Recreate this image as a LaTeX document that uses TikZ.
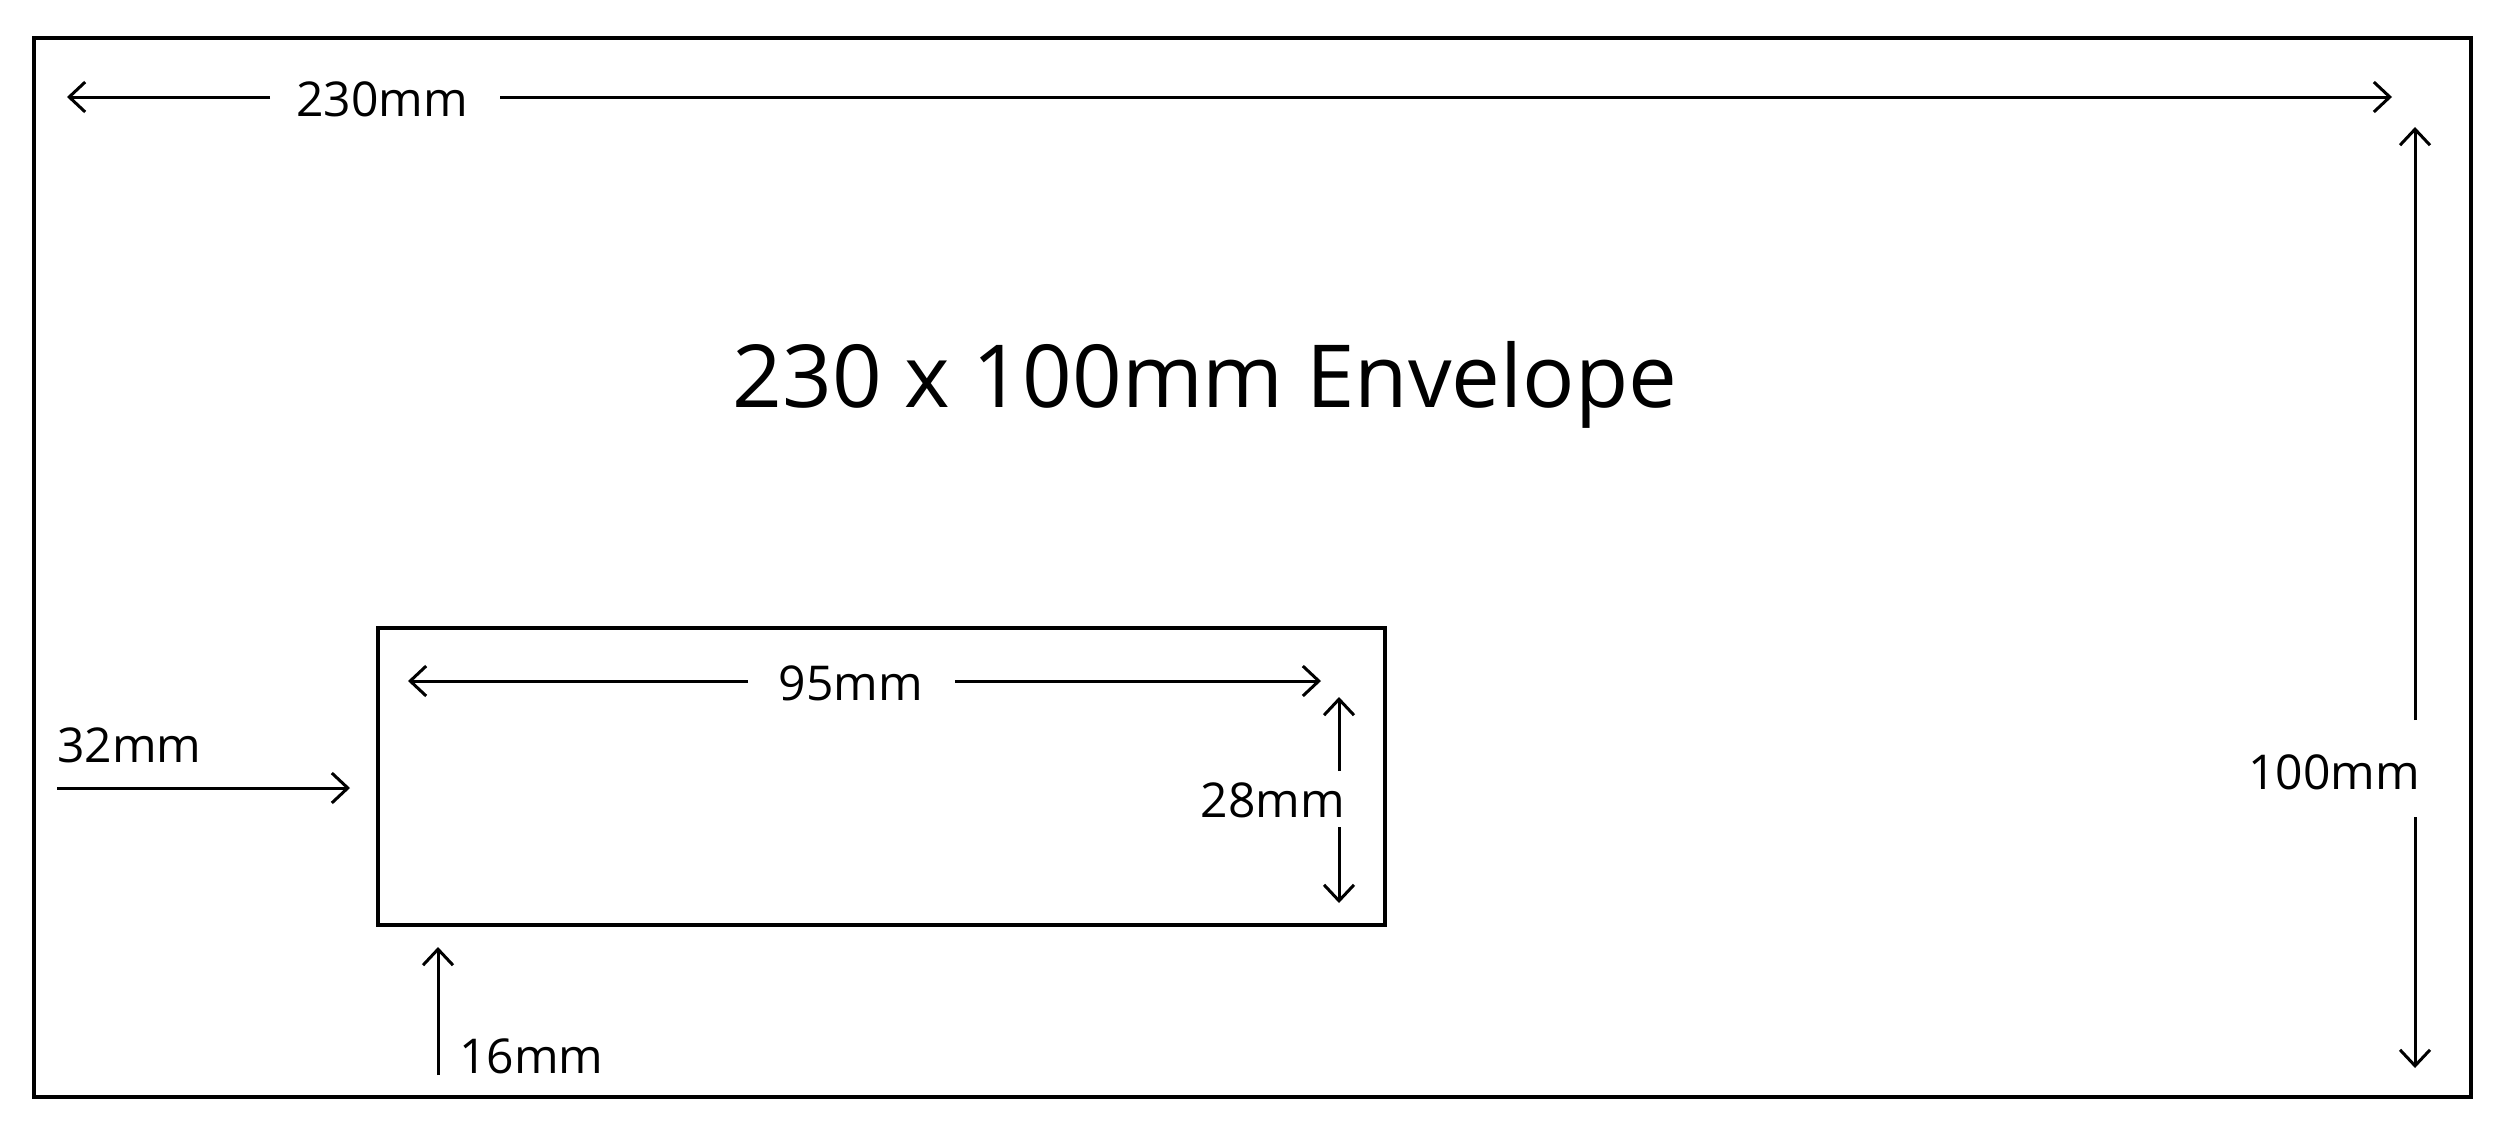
\documentclass[tikz,border=0pt]{standalone}
\usepackage{fontspec}
\setmainfont{Open Sans}
\usetikzlibrary{arrows.meta}
\begin{document}
\begin{tikzpicture}[x=1pt,y=-1pt,
  dimline/.style={line width=3pt,-{Straight Barb[length=16pt,width=30pt,line width=3pt]}},
  lbl/.style={inner sep=0pt,font=\fontsize{48}{48}\selectfont},
  titlelbl/.style={inner sep=0pt,font=\fontsize{87}{87}\selectfont},
  frame/.style={line width=3.5pt}]
\useasboundingbox (0,0) rectangle (2500,1135);
\fill[white] (0,0) rectangle (2500,1135);
% envelope and window
\draw[frame] (34,38) rectangle (2471,1097);
\draw[frame] (378,628) rectangle (1385,925);
% title
\node[titlelbl] (title) at (1205,385) {230 x 100mm Envelope};
% 230mm
\node[lbl] (t230) at (382,99) {230mm};
\coordinate (a230l) at (270,97);
\coordinate (a230lt) at (67,97);
\coordinate (a230r) at (500,97);
\coordinate (a230rt) at (2392,97);
\draw[dimline] (a230l) -- (a230lt);
\draw[dimline] (a230r) -- (a230rt);
% 100mm
\node[lbl] (t100) at (2334,772) {100mm};
\coordinate (a100u) at (2415,720);
\coordinate (a100ut) at (2415,127);
\coordinate (a100d) at (2415,817);
\coordinate (a100dt) at (2415,1068);
\draw[dimline] (a100u) -- (a100ut);
\draw[dimline] (a100d) -- (a100dt);
% 95mm
\node[lbl] (t95) at (851,683) {95mm};
\coordinate (a95l) at (748,681);
\coordinate (a95lt) at (408,681);
\coordinate (a95r) at (955,681);
\coordinate (a95rt) at (1321,681);
\draw[dimline] (a95l) -- (a95lt);
\draw[dimline] (a95r) -- (a95rt);
% 28mm
\node[lbl] (t28) at (1273,800) {28mm};
\coordinate (a28u) at (1339,771);
\coordinate (a28ut) at (1339,697);
\coordinate (a28d) at (1339,827);
\coordinate (a28dt) at (1339,903);
\draw[dimline] (a28u) -- (a28ut);
\draw[dimline] (a28d) -- (a28dt);
% 32mm
\node[lbl,anchor=west] (t32) at (57,745) {32mm};
\coordinate (a32s) at (57,788);
\coordinate (a32t) at (350,788);
\draw[dimline] (a32s) -- (a32t);
% 16mm
\node[lbl,anchor=west] (t16) at (459,1056) {16mm};
\coordinate (a16s) at (438,1075);
\coordinate (a16t) at (438,947);
\draw[dimline] (a16s) -- (a16t);
\end{tikzpicture}
\end{document}
